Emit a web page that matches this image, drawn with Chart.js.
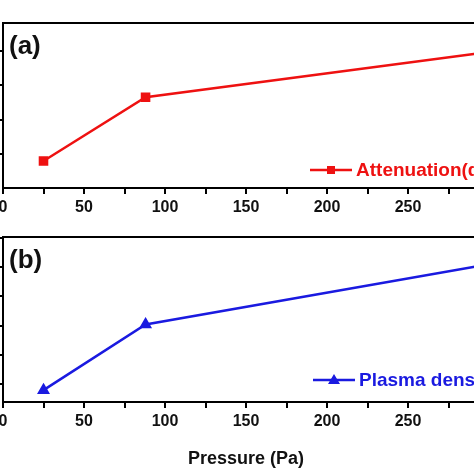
<!DOCTYPE html>
<html>
<head>
<meta charset="utf-8">
<script src="https://cdn.jsdelivr.net/npm/chart.js@4.4.0/dist/chart.umd.min.js"></script>
<style>
  body { margin: 0; width: 474px; height: 474px; overflow: hidden; background: #fff; position: relative; }
  canvas { position: absolute; left: -10px; }
</style>
</head>
<body>
<canvas id="ca" width="520" height="218" style="top:0"></canvas>
<canvas id="cb" width="520" height="260" style="top:214px"></canvas>
<script>
// data
const pressure = [25, 88, 300];
const attenuation = [0.79, 2.65, 3.97];
const density = [0.79, 3.04, 5.1];
const xTicks = [0, 50, 100, 150, 200, 250, 300];

const FONT = "'Liberation Sans', Arial, sans-serif";

// frame, panel letter and a hand-placed legend
const framePlugin = {
  id: 'frame',
  afterDraw(chart, args, opts) {
    const c = chart.ctx, a = chart.chartArea;
    c.save();
    c.strokeStyle = '#000';
    c.lineWidth = 2;
    c.strokeRect(a.left, a.top, a.right - a.left, a.bottom - a.top);
    c.fillStyle = '#111';
    c.font = 'bold 26px ' + FONT;
    c.textBaseline = 'middle';
    c.fillText(opts.letter, a.left + 6, a.top + 24);
    // legend
    const ly = opts.legendY, lx = opts.legendX;
    c.strokeStyle = opts.color;
    c.fillStyle = opts.color;
    c.lineWidth = 2.5;
    c.beginPath(); c.moveTo(lx, ly); c.lineTo(lx + 42, ly); c.stroke();
    if (opts.marker === 'rect') {
      c.fillRect(lx + 17, ly - 4, 8, 8);
    } else {
      c.beginPath(); c.moveTo(lx + 21, ly - 6); c.lineTo(lx + 27, ly + 4); c.lineTo(lx + 15, ly + 4); c.closePath(); c.fill();
    }
    c.font = 'bold 19px ' + FONT;
    c.fillText(opts.label, lx + 46, ly + 1);
    c.restore();
  }
};

function makeChart(id, values, color, marker, yMin, yMax, xHeight, title, frameOpts) {
  return new Chart(document.getElementById(id), {
    type: 'line',
    data: {
      datasets: [{
        data: pressure.map((p, i) => ({ x: p, y: values[i] })),
        borderColor: color,
        backgroundColor: color,
        borderWidth: 2.5,
        pointStyle: marker === 'rect' ? 'rect' : 'triangle',
        pointRadius: 5,
        tension: 0
      }]
    },
    options: {
      responsive: false,
      animation: false,
      layout: { padding: { top: 23, right: 21, left: 0, bottom: 0 } },
      plugins: { legend: { display: false }, tooltip: { enabled: false }, frame: frameOpts },
      scales: {
        x: {
          type: 'linear', min: 0, max: 300,
          afterBuildTicks: s => { s.ticks = []; for (let v = 0; v <= 300; v += 25) s.ticks.push({ value: v }); },
          afterFit: s => { s.height = xHeight; },
          grid: { drawOnChartArea: false, tickLength: 6, color: '#000', lineWidth: 2 },
          border: { color: '#000', width: 2 },
          ticks: {
            color: '#111', font: { family: FONT, size: 16, weight: 'bold' },
            padding: 4, autoSkip: false, maxRotation: 0,
            callback: v => xTicks.includes(v) ? v : ''
          },
          title: { display: !!title, text: title, color: '#111', font: { family: FONT, size: 18, weight: 'bold' }, padding: { top: 2 } }
        },
        y: {
          min: yMin, max: yMax,
          afterBuildTicks: s => { s.ticks = []; for (let v = 1; v <= Math.floor(yMax); v++) s.ticks.push({ value: v }); },
          afterFit: s => { s.width = 13; },
          grid: { drawOnChartArea: false, tickLength: 6, color: '#000', lineWidth: 2 },
          border: { color: '#000', width: 2 },
          ticks: { display: false }
        }
      }
    },
    plugins: [framePlugin]
  });
}

makeChart('ca', attenuation, '#ee1111', 'rect', 0, 4.82, 30, '',
  { letter: '(a)', color: '#ee1111', marker: 'rect', label: 'Attenuation(dB)', legendX: 320, legendY: 170 });
makeChart('cb', density, '#1a1ae0', 'tri', 0.385, 6.03, 72, 'Pressure (Pa)',
  { letter: '(b)', color: '#1a1ae0', marker: 'tri', label: 'Plasma density', legendX: 323, legendY: 166 });
</script>
</body>
</html>
